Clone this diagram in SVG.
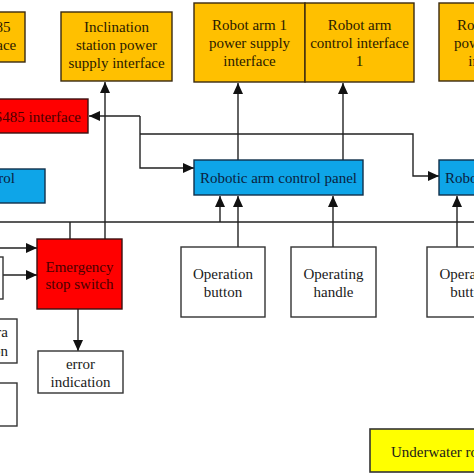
<svg xmlns="http://www.w3.org/2000/svg" width="474" height="474" viewBox="0 0 474 474">
<defs>
<marker id="ah" markerUnits="userSpaceOnUse" markerWidth="12" markerHeight="10" refX="11" refY="5" orient="auto">
<path d="M0,0 L11,5 L0,10 Z" fill="#111"/>
</marker>
<style>
text{font-family:"Liberation Serif","Times New Roman",serif;font-size:15px;text-anchor:middle}
.or{fill:#ffc000;stroke:#3a2a10;stroke-width:1.4}
.rd{fill:#ff0000;stroke:#3a1010;stroke-width:1.4}
.bl{fill:#0ea5e8;stroke:#10304a;stroke-width:1.4}
.wh{fill:#ffffff;stroke:#333;stroke-width:1.4}
.ye{fill:#ffff00;stroke:#333;stroke-width:1.6}
.to{fill:#2a1a00}
.tr{fill:#4a0000}
.tb{fill:#0a2240}
.tw{fill:#1a1a1a}
.c{fill:none;stroke:#222;stroke-width:1.4}
.a{marker-end:url(#ah)}
</style>
</defs>
<rect width="474" height="474" fill="#fff"/>
<g id="connectors">
<path class="c" d="M0,222 H474"/>
<path class="c" d="M70,222 V239"/>
<path class="c a" d="M105,239 V82"/>
<path class="c a" d="M0,248 H37"/>
<path class="c a" d="M3,275 H37"/>
<path class="c a" d="M78,309 V351"/>
<path class="c a" d="M220,222 V196"/>
<path class="c a" d="M238,247 V196"/>
<path class="c a" d="M333,247 V196"/>
<path class="c a" d="M457,247 V196"/>
<path class="c a" d="M238,160 V83"/>
<path class="c a" d="M343,160 V83"/>
<path class="c a" d="M140,116 H89"/>
<path class="c a" d="M140,116 V168 H194"/>
<path class="c a" d="M140,134 H413 V176 H439"/>
</g>
<g id="rs485-top">
<rect class="or" x="-45" y="12" width="70" height="50"/>
<text class="to" x="-10" y="32">RS485</text>
<text class="to" x="-10" y="50">interface</text>
</g>
<g id="inclination-power">
<rect class="or" x="61" y="12" width="111" height="69"/>
<text class="to" x="116.5" y="32">Inclination</text>
<text class="to" x="116.5" y="50">station power</text>
<text class="to" x="116.5" y="68">supply interface</text>
</g>
<g id="arm1-power">
<rect class="or" x="194" y="3" width="111" height="79"/>
<text class="to" x="249.5" y="30">Robot arm 1</text>
<text class="to" x="249.5" y="48">power supply</text>
<text class="to" x="249.5" y="66">interface</text>
</g>
<g id="arm1-control">
<rect class="or" x="305" y="3" width="109" height="79"/>
<text class="to" x="359.5" y="30">Robot arm</text>
<text class="to" x="359.5" y="48">control interface</text>
<text class="to" x="359.5" y="66">1</text>
</g>
<g id="arm2-power">
<rect class="or" x="439" y="3" width="111" height="78"/>
<text class="to" x="494.5" y="30">Robot arm 2</text>
<text class="to" x="494.5" y="48">power supply</text>
<text class="to" x="494.5" y="66">interface</text>
</g>
<g id="rs485-red">
<rect class="rd" x="-24" y="99" width="112" height="34"/>
<text class="tr" x="32.5" y="122">RS485 interface</text>
</g>
<g id="control-left">
<rect class="bl" x="-60" y="169" width="105" height="34"/>
<text class="tb" x="15" y="183" style="text-anchor:end">control</text>
</g>
<g id="emergency-stop">
<rect class="rd" x="37" y="239" width="85" height="70"/>
<text class="tr" x="79.5" y="272">Emergency</text>
<text class="tr" x="79.5" y="289">stop switch</text>
</g>
<g id="left-box-a">
<rect class="wh" x="-60" y="257" width="63" height="42"/>
</g>
<g id="left-box-b">
<rect class="wh" x="-60" y="319" width="77" height="44"/>
<text class="tw" x="8" y="337" style="text-anchor:end">camera</text>
<text class="tw" x="8" y="356" style="text-anchor:end">illumination</text>
</g>
<g id="left-box-c">
<rect class="wh" x="-60" y="383" width="77" height="43"/>
</g>
<g id="error-indication">
<rect class="wh" x="38" y="351" width="85" height="42"/>
<text class="tw" x="80.5" y="369">error</text>
<text class="tw" x="80.5" y="387">indication</text>
</g>
<g id="operation-button-1">
<rect class="wh" x="181" y="247" width="84" height="70"/>
<text class="tw" x="223" y="279">Operation</text>
<text class="tw" x="223" y="297">button</text>
</g>
<g id="operating-handle">
<rect class="wh" x="291" y="247" width="85" height="70"/>
<text class="tw" x="333.5" y="279">Operating</text>
<text class="tw" x="333.5" y="297">handle</text>
</g>
<g id="operation-button-2">
<rect class="wh" x="427" y="247" width="85" height="70"/>
<text class="tw" x="469.5" y="279">Operation</text>
<text class="tw" x="469.5" y="297">button</text>
</g>
<g id="arm-panel-1">
<rect class="bl" x="194" y="160" width="169" height="35"/>
<text class="tb" x="278.5" y="183">Robotic arm control panel</text>
</g>
<g id="arm-panel-2">
<rect class="bl" x="439" y="160" width="169" height="35"/>
<text class="tb" x="523.5" y="183">Robotic arm control panel</text>
</g>
<g id="underwater-robot">
<rect class="ye" x="370" y="429" width="200" height="43"/>
<text class="tw" x="391" y="457" style="text-anchor:start">Underwater robot</text>
</g>
</svg>
